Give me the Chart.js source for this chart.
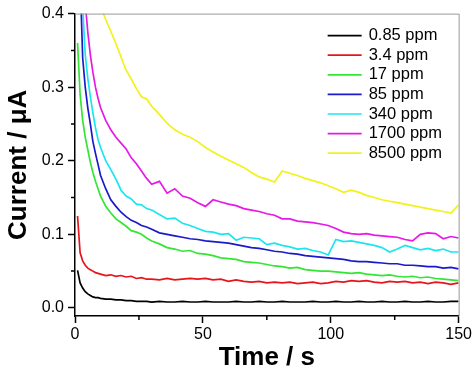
<!DOCTYPE html>
<html>
<head>
<meta charset="utf-8">
<script src="https://cdn.jsdelivr.net/npm/chart.js@4.4.1/dist/chart.umd.min.js"></script>
<style>
  html, body { margin: 0; padding: 0; background: #fff; }
  #wrap { width: 474px; height: 376px; position: relative; }
</style>
</head>
<body>
<div id="wrap"><canvas id="chart"></canvas></div>
<script>
// time grid (s)
var time = [1,2,3,4,5,6,7,8,9,10,12,14,16,18,20,22,24,26,28,30,
  33,36,39,42,45,48,51,54,57,60,63,66,69,72,75,78,81,84,87,90,
  93,96,99,102,105,108,111,114,117,120,123,126,129,132,135,138,141,144,147,150];

var labels = ['0.85 ppm', '3.4 ppm', '17 ppm', '85 ppm', '340 ppm', '1700 ppm', '8500 ppm'];
var colors = ['#000000', '#e8141c', '#33e633', '#1a1acc', '#1ae6f0', '#e619e6', '#f2f21a'];

// current (uA)
var c085 = [0.051,0.034,0.027,0.022,0.019,0.017,0.015,0.014,0.014,0.013,0.012,0.012,0.011,0.011,0.010,0.010,0.009,0.009,0.009,0.008,
  0.009,0.008,0.008,0.009,0.008,0.008,0.009,0.008,0.008,0.008,0.009,0.008,0.008,0.009,0.008,0.008,0.009,0.008,0.008,0.008,
  0.009,0.008,0.008,0.009,0.008,0.008,0.009,0.008,0.008,0.009,0.008,0.008,0.009,0.008,0.008,0.009,0.008,0.008,0.009,0.009];
var c34 = [0.125,0.075,0.064,0.058,0.054,0.052,0.050,0.048,0.047,0.046,0.044,0.045,0.043,0.044,0.042,0.043,0.040,0.041,0.039,0.039,
  0.038,0.040,0.038,0.039,0.040,0.039,0.040,0.038,0.039,0.036,0.038,0.036,0.035,0.036,0.034,0.035,0.034,0.035,0.033,0.034,
  0.035,0.033,0.034,0.036,0.035,0.037,0.036,0.037,0.035,0.034,0.036,0.035,0.036,0.034,0.035,0.033,0.035,0.034,0.032,0.034];
var c17 = [0.360,0.290,0.255,0.232,0.215,0.198,0.184,0.172,0.162,0.152,0.138,0.129,0.121,0.116,0.111,0.105,0.103,0.100,0.095,0.091,
  0.087,0.082,0.080,0.077,0.078,0.074,0.073,0.071,0.068,0.067,0.066,0.063,0.062,0.061,0.059,0.057,0.056,0.054,0.055,0.052,
  0.051,0.050,0.050,0.049,0.048,0.047,0.048,0.046,0.045,0.044,0.045,0.043,0.042,0.043,0.041,0.042,0.040,0.039,0.038,0.037];
var c85 = [0.600,0.450,0.340,0.300,0.272,0.250,0.226,0.210,0.195,0.180,0.162,0.147,0.138,0.130,0.124,0.119,0.116,0.112,0.110,0.107,
  0.102,0.100,0.098,0.096,0.094,0.093,0.091,0.090,0.089,0.088,0.086,0.084,0.082,0.081,0.079,0.077,0.076,0.074,0.073,0.071,
  0.070,0.069,0.068,0.067,0.066,0.064,0.063,0.063,0.062,0.061,0.060,0.060,0.058,0.058,0.057,0.056,0.056,0.054,0.055,0.053];
var c340 = [0.700,0.520,0.410,0.344,0.312,0.287,0.265,0.245,0.229,0.218,0.200,0.188,0.175,0.160,0.152,0.148,0.141,0.140,0.135,0.133,
  0.127,0.121,0.122,0.115,0.112,0.108,0.104,0.103,0.100,0.101,0.092,0.096,0.095,0.094,0.086,0.088,0.085,0.083,0.080,0.081,
  0.078,0.076,0.072,0.093,0.090,0.091,0.089,0.087,0.085,0.082,0.076,0.080,0.085,0.082,0.079,0.081,0.078,0.080,0.076,0.076];
var c1700 = [0.850,0.620,0.490,0.415,0.375,0.344,0.320,0.300,0.285,0.272,0.255,0.242,0.232,0.224,0.216,0.204,0.196,0.186,0.176,0.168,
  0.172,0.156,0.162,0.152,0.149,0.143,0.138,0.147,0.144,0.141,0.139,0.135,0.133,0.131,0.128,0.126,0.121,0.121,0.118,0.117,
  0.116,0.114,0.112,0.108,0.103,0.101,0.100,0.101,0.099,0.098,0.097,0.096,0.093,0.091,0.100,0.102,0.101,0.094,0.097,0.095];
var c8500 = [1.000,0.850,0.740,0.660,0.590,0.530,0.490,0.450,0.430,0.410,0.392,0.376,0.359,0.341,0.323,0.311,0.298,0.287,0.284,0.274,
  0.263,0.251,0.242,0.236,0.232,0.226,0.218,0.212,0.206,0.201,0.196,0.191,0.184,0.178,0.175,0.171,0.186,0.183,0.180,0.176,
  0.173,0.170,0.166,0.162,0.157,0.160,0.157,0.153,0.150,0.147,0.145,0.143,0.141,0.139,0.137,0.135,0.133,0.131,0.129,0.140];

var series = [c085, c34, c17, c85, c340, c1700, c8500];

var xTicks = [0, 50, 100, 150];
var yTicks = [0, 0.1, 0.2, 0.3, 0.4];
var xMinor = [25, 75, 125];
var yMinor = [0.05, 0.15, 0.25, 0.35];

var datasets = [];
for (var i = 0; i < series.length; i++) {
  datasets.push({
    label: labels[i],
    data: time.map(function (t, j) { return { x: t, y: series[i][j] }; }),
    borderColor: colors[i],
    borderWidth: 1.7,
    pointRadius: 0,
    tension: 0,
    fill: false
  });
}

// minor ticks, top/right frame and in-plot legend
var extras = {
  id: 'extras',
  afterDraw: function (chart) {
    var ctx = chart.ctx;
    var a = chart.chartArea;
    var xs = chart.scales.x, ys = chart.scales.y;
    ctx.save();
    ctx.strokeStyle = '#999';
    ctx.lineWidth = 1;
    ctx.beginPath();
    ctx.moveTo(a.left, a.top + 0.5);
    ctx.lineTo(a.right + 0.5, a.top + 0.5);
    ctx.lineTo(a.right + 0.5, a.bottom);
    ctx.stroke();

    ctx.strokeStyle = '#000';
    ctx.lineWidth = 1.5;
    ctx.beginPath();
    xMinor.forEach(function (v) {
      var p = xs.getPixelForValue(v);
      ctx.moveTo(p, a.bottom);
      ctx.lineTo(p, a.bottom + 4);
    });
    yMinor.forEach(function (v) {
      var p = ys.getPixelForValue(v);
      ctx.moveTo(a.left, p);
      ctx.lineTo(a.left - 4, p);
    });
    ctx.stroke();

    ctx.font = '16.5px "Liberation Sans", Arial, sans-serif';
    ctx.textBaseline = 'middle';
    ctx.fillStyle = '#000';
    chart.data.datasets.forEach(function (ds, k) {
      var y = a.top + 22 + k * 19.6;
      ctx.strokeStyle = ds.borderColor;
      ctx.lineWidth = 1.7;
      ctx.beginPath();
      ctx.moveTo(a.right - 131, y);
      ctx.lineTo(a.right - 97, y);
      ctx.stroke();
      ctx.fillText(ds.label, a.right - 90, y);
    });
    ctx.restore();
  }
};

new Chart(document.getElementById('chart'), {
  type: 'line',
  data: { datasets: datasets },
  options: {
    responsive: true,
    maintainAspectRatio: false,
    animation: false,
    layout: { padding: { left: 0, right: 15, top: 7, bottom: 0 } },
    plugins: {
      legend: { display: false },
      tooltip: { enabled: false }
    },
    scales: {
      x: {
        type: 'linear',
        min: 0,
        max: 150,
        afterBuildTicks: function (s) { s.ticks = xTicks.map(function (v) { return { value: v }; }); },
        afterFit: function (s) { s.height = 60; },
        grid: { drawOnChartArea: false, tickLength: 7, tickColor: '#000', tickWidth: 1.5 },
        border: { color: '#000', width: 1.5 },
        ticks: {
          color: '#000',
          font: { family: '"Liberation Sans", Arial', size: 16 },
          padding: 2,
          maxRotation: 0
        },
        title: {
          display: true,
          text: 'Time / s',
          color: '#000',
          font: { family: '"Liberation Sans", Arial', size: 26, weight: 'bold' },
          padding: { top: 0, bottom: 3 }
        }
      },
      y: {
        min: -0.011,
        max: 0.4,
        afterBuildTicks: function (s) { s.ticks = yTicks.map(function (v) { return { value: v }; }); },
        afterFit: function (s) { s.width = 75; },
        grid: { drawOnChartArea: false, tickLength: 7, tickColor: '#000', tickWidth: 1.5 },
        border: { color: '#000', width: 1.5 },
        ticks: {
          color: '#000',
          font: { family: '"Liberation Sans", Arial', size: 16 },
          padding: 4,
          callback: function (v) { return v.toFixed(1); }
        },
        title: {
          display: true,
          text: 'Current / μA',
          color: '#000',
          font: { family: '"Liberation Sans", Arial', size: 26, weight: 'bold' },
          padding: { top: 3, bottom: 0 }
        }
      }
    }
  },
  plugins: [extras]
});
</script>
</body>
</html>
